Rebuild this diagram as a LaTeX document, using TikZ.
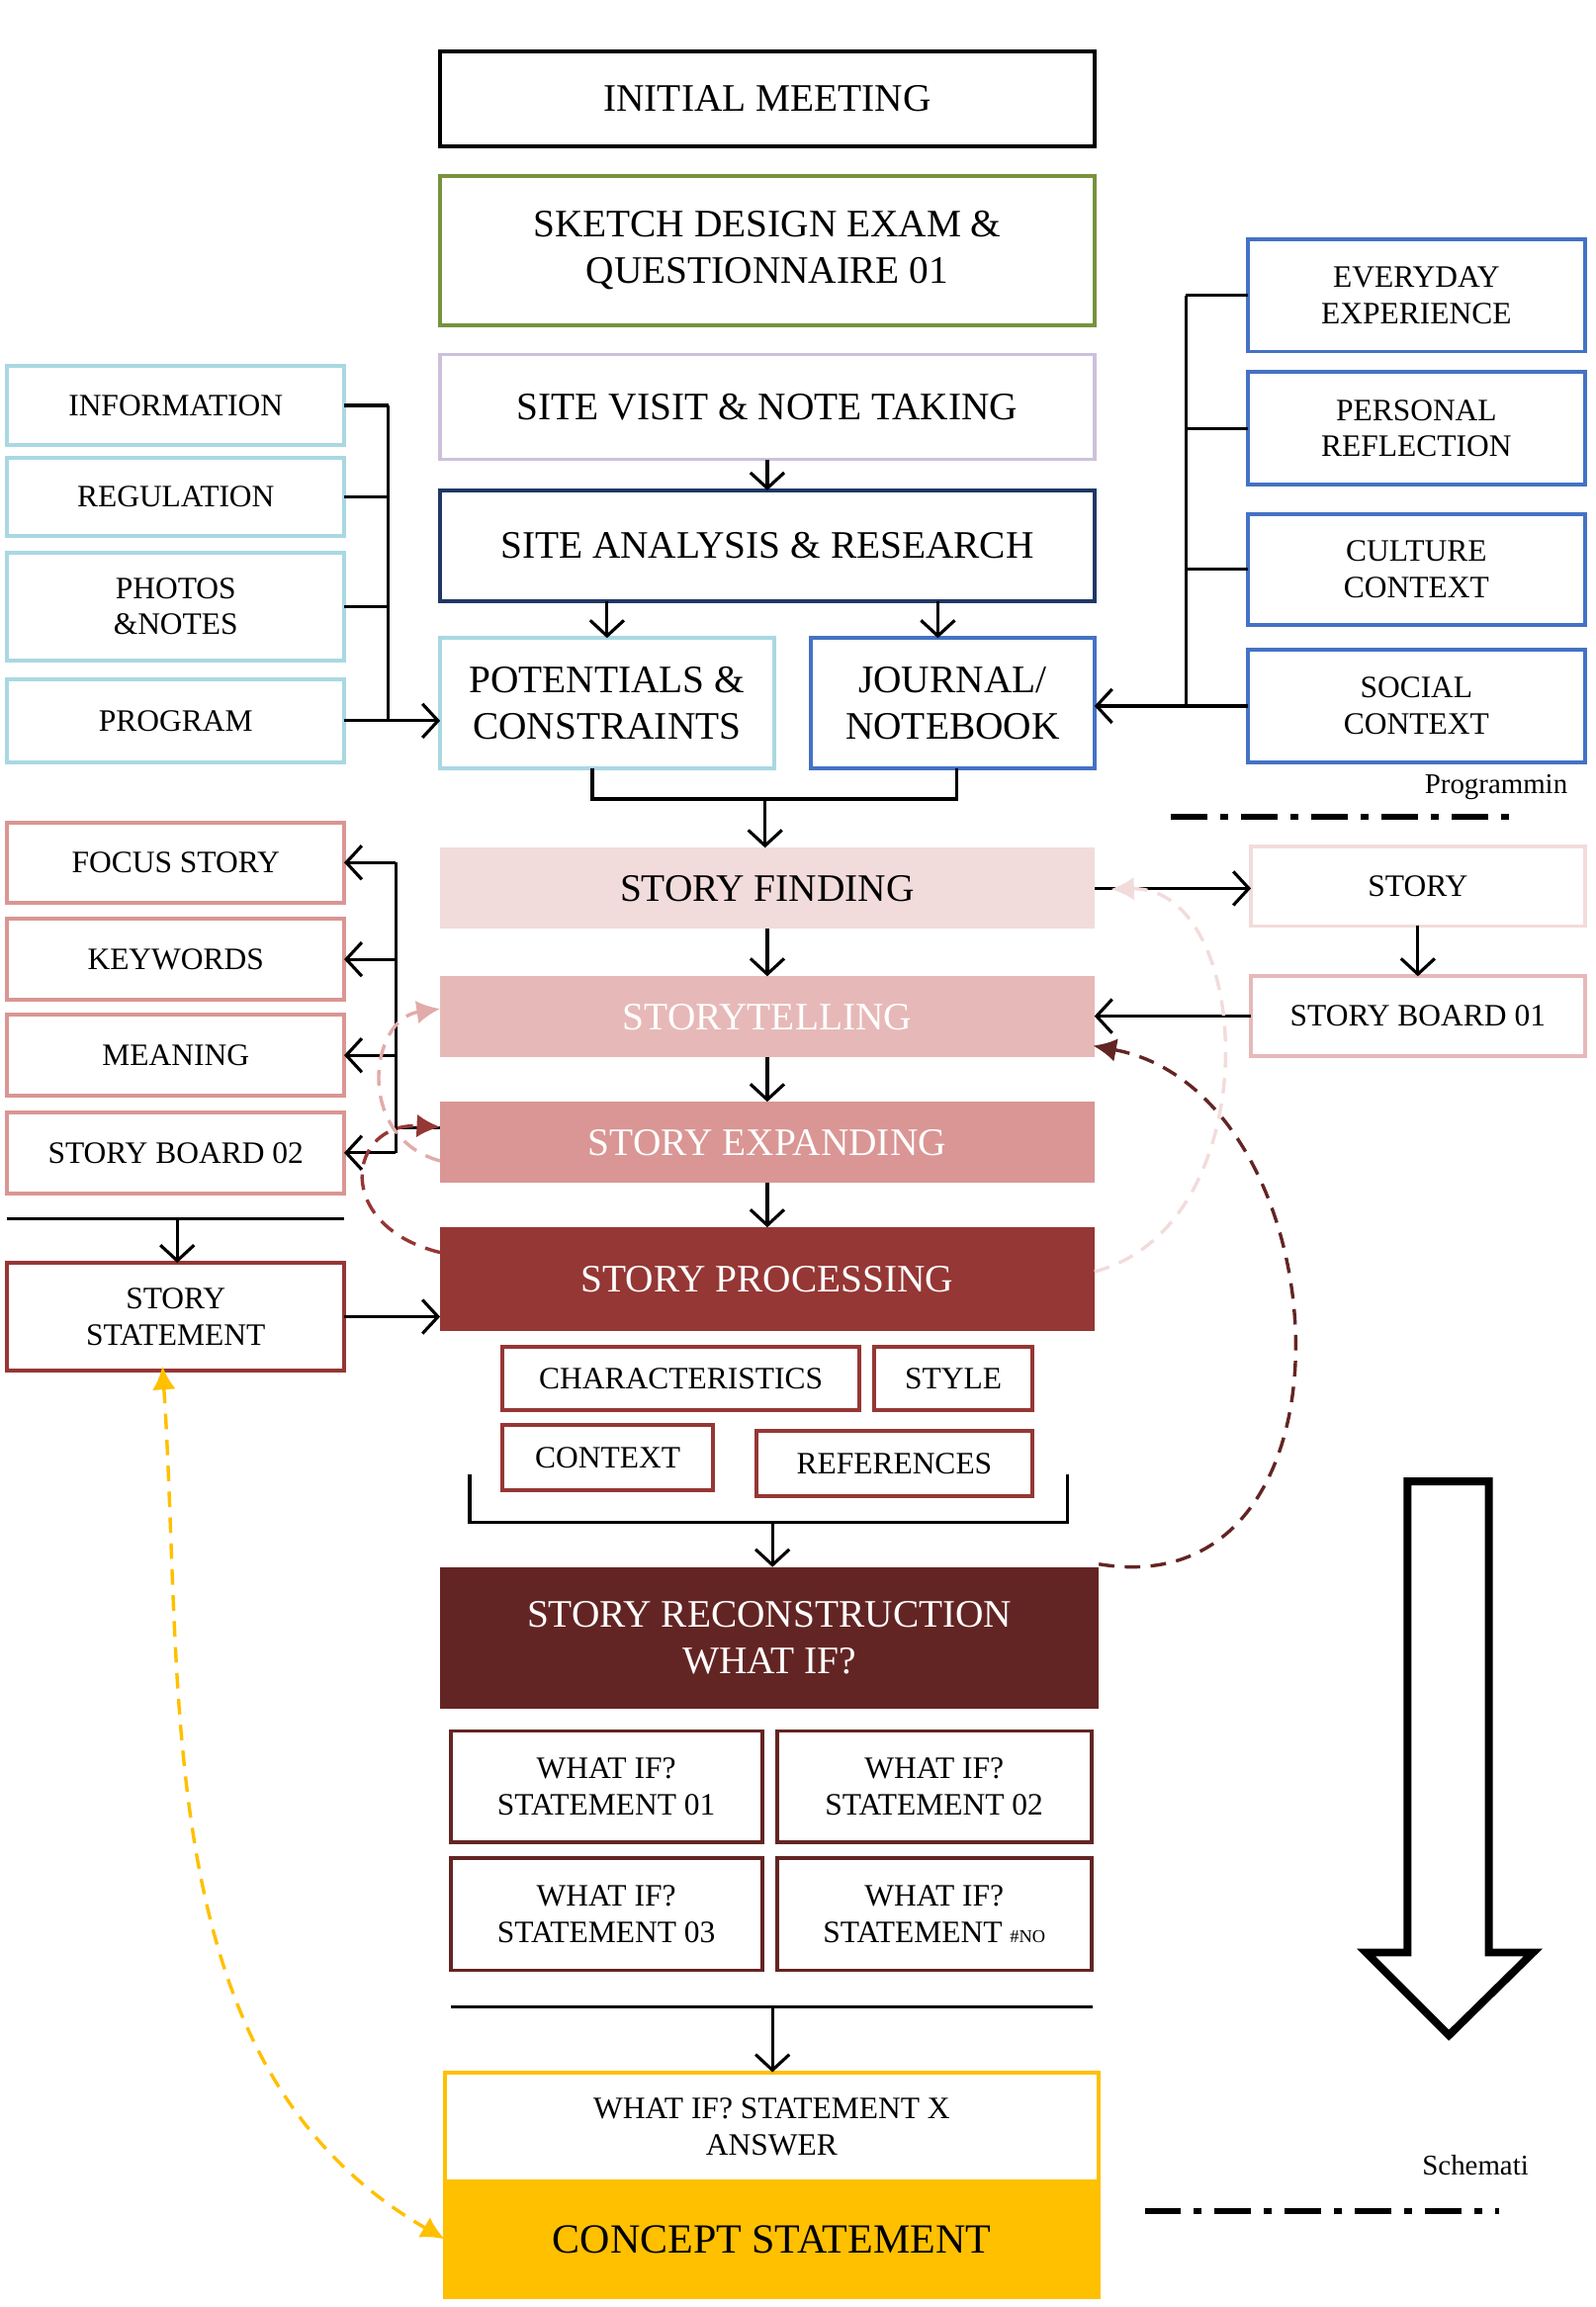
\documentclass[tikz,border=0pt]{standalone}
\usepackage{fontspec}
\setmainfont{Liberation Serif}
\usetikzlibrary{arrows.meta,calc}
\definecolor{olv}{HTML}{77933C}
\definecolor{lav}{HTML}{CCC1DA}
\definecolor{navy}{HTML}{1F3864}
\definecolor{lblue}{HTML}{A9D8E2}
\definecolor{mblue}{HTML}{4472C4}
\definecolor{pk1}{HTML}{F2DCDB}
\definecolor{pk2}{HTML}{E6B9B8}
\definecolor{pk3}{HTML}{D99694}
\definecolor{rd1}{HTML}{953735}
\definecolor{rd2}{HTML}{632523}
\definecolor{gold}{HTML}{FFC000}
\newcommand\bx[7]{\node[box,#6,minimum width={(#4-#2)*0.02cm},minimum height={(#5-#3)*0.02cm}] (#1) at ({(#2+#4)/2},{(#3+#5)/2}) {#7};}
\begin{document}
\begin{tikzpicture}[x=0.02cm,y=-0.02cm,
  box/.style={draw,line width=1.5pt,inner sep=0pt,outer sep=0pt,align=center,font=\fontsize{12}{14}\selectfont},
  big/.style={font=\fontsize{15}{18}\selectfont},
  con/.style={line width=1.2pt},
  arr/.style={con,-{Straight Barb[length=6pt,width=13pt]}},
  dsh/.style={line width=1.3pt,dash pattern=on 6pt off 4pt,-{Latex[length=9pt,width=9pt]}},
  dd/.style={line width=2pt,dash pattern=on 14pt off 5pt on 3pt off 5pt}]
\useasboundingbox (0,0) rectangle (1080,1562);
% main column
\bx{im}{298}{35}{741}{99}{big}{INITIAL MEETING}
\bx{sk}{298}{119}{741}{220}{big,draw=olv}{SKETCH DESIGN EXAM \&\\QUESTIONNAIRE 01}
\bx{sv}{298}{240}{741}{311}{big,draw=lav}{SITE VISIT \& NOTE TAKING}
\bx{sa}{298}{332}{741}{407}{big,draw=navy}{SITE ANALYSIS \& RESEARCH}
\bx{pc}{298}{432}{524}{520}{big,draw=lblue}{POTENTIALS \&\\CONSTRAINTS}
\bx{jn}{549}{432}{741}{520}{big,draw=mblue}{JOURNAL/\\NOTEBOOK}
% left info
\bx{inf}{5}{248}{233}{301}{draw=lblue}{INFORMATION}
\bx{reg}{5}{310}{233}{363}{draw=lblue}{REGULATION}
\bx{pho}{5}{374}{233}{447}{draw=lblue}{PHOTOS\\\&NOTES}
\bx{prg}{5}{460}{233}{516}{draw=lblue}{PROGRAM}
% right info
\bx{ev}{845}{162}{1073}{238}{draw=mblue}{EVERYDAY\\EXPERIENCE}
\bx{pr}{845}{252}{1073}{328}{draw=mblue}{PERSONAL\\REFLECTION}
\bx{cu}{845}{348}{1073}{423}{draw=mblue}{CULTURE\\CONTEXT}
\bx{so}{845}{440}{1073}{516}{draw=mblue}{SOCIAL\\CONTEXT}
% story stages
\bx{sf}{298}{574}{741}{629}{big,draw=none,fill=pk1}{STORY FINDING}
\bx{st}{298}{661}{741}{716}{big,draw=none,fill=pk2,text=white}{STORYTELLING}
\bx{se}{298}{746}{741}{801}{big,draw=none,fill=pk3,text=white}{STORY EXPANDING}
\bx{sp}{298}{831}{741}{901}{big,draw=none,fill=rd1,text=white}{STORY PROCESSING}
\bx{sto}{847}{573}{1073}{627}{draw=pk1}{STORY}
\bx{sb1}{847}{661}{1073}{715}{draw=pk2}{STORY BOARD 01}
\bx{fs}{5}{557}{233}{611}{draw=pk3}{FOCUS STORY}
\bx{kw}{5}{622}{233}{677}{draw=pk3}{KEYWORDS}
\bx{mn}{5}{687}{233}{742}{draw=pk3}{MEANING}
\bx{sb2}{5}{753}{233}{808}{draw=pk3}{STORY BOARD 02}
\bx{ss}{5}{855}{233}{928}{draw=rd1}{STORY\\STATEMENT}
\bx{ch}{340}{912}{582}{955}{draw=rd1}{CHARACTERISTICS}
\bx{sy}{592}{912}{699}{955}{draw=rd1}{STYLE}
\bx{cx}{340}{965}{483}{1009}{draw=rd1}{CONTEXT}
\bx{rf}{512}{969}{699}{1013}{draw=rd1}{REFERENCES}
\bx{sr}{298}{1061}{744}{1157}{big,draw=none,fill=rd2,text=white}{STORY RECONSTRUCTION\\WHAT IF?}
\bx{w1}{305}{1172}{516}{1247}{draw=rd2}{WHAT IF?\\STATEMENT 01}
\bx{w2}{526}{1172}{739}{1247}{draw=rd2}{WHAT IF?\\STATEMENT 02}
\bx{w3}{305}{1258}{516}{1334}{draw=rd2}{WHAT IF?\\STATEMENT 03}
\bx{w4}{526}{1258}{739}{1334}{draw=rd2}{WHAT IF?\\STATEMENT {\scriptsize\#NO}}
\bx{wx}{301}{1403}{744}{1477}{draw=gold}{WHAT IF? STATEMENT X\\ANSWER}
\bx{cs}{301}{1477}{744}{1555}{big,draw=gold,fill=gold}{\fontsize{16}{18}\selectfont CONCEPT STATEMENT}
% labels
\node[font=\fontsize{11}{13}\selectfont] (lp) at (1013,533) {Programmin};
\node[font=\fontsize{11}{13}\selectfont] (ls) at (999,1466) {Schemati};
\coordinate (d1a) at (793,553); \coordinate (d1b) at (1030,553);
\coordinate (d2a) at (775,1497); \coordinate (d2b) at (1015,1497);
\draw[dd] (d1a) -- (d1b);
\draw[dd] (d2a) -- (d2b);
% top connectors
\draw[arr] (sv) -- (sa);
\draw[arr] (sa.south -| pc) -- (pc);
\draw[arr] (sa.south -| jn.north) ++(-10,0) coordinate (jt) -- (jt |- jn.north);
\coordinate (lx) at (263,0);
\foreach \b in {inf,reg,pho} \draw[con] (\b.east) -- (\b.east -| lx);
\draw[con] (inf.east -| lx) -- (prg.east -| lx);
\draw[arr] (prg.east) -- (pc.west |- prg.east);
\coordinate (rx) at (803,0);
\foreach \b in {ev,pr,cu} \draw[con] (\b.west) -- (\b.west -| rx);
\draw[con] (ev.west -| rx) -- (so.west -| rx);
\draw[arr] (so.west) -- (jn.east |- so.west);
\coordinate (bl) at (401,541); \coordinate (br) at (648,541);
\draw[con] (bl |- pc.south) -- (bl) -- (br) -- (br |- jn.south);
\draw[arr] (518,541) -- (sf.north -| 518,0);
% story connectors
\draw[arr] (sf) -- (st);
\draw[arr] (st) -- (se);
\draw[arr] (se) -- (sp);
\draw[arr] (sf.east) -- (sto.west |- sf.east);
\draw[arr] (sto) -- (sb1);
\draw[arr] (sb1.west) -- (st.east |- sb1.west);
\coordinate (sx) at (268,0);
\draw[con] (fs.east -| sx) -- (sb2.east -| sx);
\draw[con] (se.west) ++(0,-10) coordinate (sew) -- (sew -| sx);
\foreach \b in {fs,kw,mn,sb2} \draw[arr] (\b.east -| sx) -- (\b.east);
\coordinate (hl1) at (5,825); \coordinate (hl2) at (233,825);
\draw[con] (hl1) -- (hl2);
\draw[arr] (120,825) -- (ss.north -| 120,0);
\draw[arr] (ss.east) -- (sp.west |- ss.east);
\coordinate (b2l) at (318,1031); \coordinate (b2r) at (723,1031);
\draw[con] (318,998) -- (b2l) -- (b2r) -- (723,998);
\draw[arr] (523,1031) -- (sr.north -| 523,0);
\coordinate (hl3) at (305,1359); \coordinate (hl4) at (740,1359);
\draw[con] (hl3) -- (hl4);
\draw[arr] (523,1359) -- (wx.north -| 523,0);
% dashed curves
\draw[dsh,pk1] (sp.east) ++(0,-5) coordinate (a1) .. controls (860,830) and (850,600) .. (752,602);
\draw[dsh,rd2] (sr.east) ++(0,-50) coordinate (a2) .. controls (930,1090) and (910,740) .. (740,708);
\draw[dsh,pk3!80!white] (298,786) .. controls (240,770) and (250,690) .. (298,683);
\draw[dsh,rd1] (298,848) .. controls (225,830) and (235,760) .. (298,763);
\draw[dsh,gold,{Latex[length=9pt,width=9pt]}-{Latex[length=9pt,width=9pt]}] (110,925) .. controls (125,1150) and (100,1400) .. (cs.west);
% big arrow
\draw[line width=3pt] (953,1003) -- (1008,1003) -- (1008,1322) -- (1038,1322) -- (981,1378) -- (925,1322) -- (953,1322) -- cycle;
\end{tikzpicture}
\end{document}
